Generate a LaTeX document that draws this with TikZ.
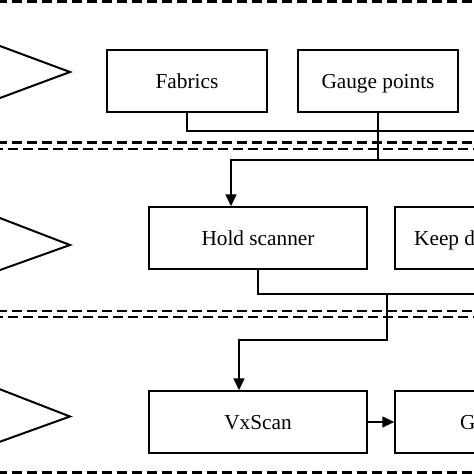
\documentclass[tikz,border=0pt]{standalone}
\usepackage{fontspec}
\setmainfont{Liberation Serif}
\usetikzlibrary{arrows.meta,calc}
\begin{document}
\begin{tikzpicture}[x=1pt,y=-1pt,
  txt/.style={font=\fontsize{21.3}{25}\selectfont, text height=14.5pt, text depth=0pt},
  box/.style={draw, line width=1.4pt, minimum height=62pt, inner sep=0pt, txt},
  lbl/.style={inner sep=0pt, txt, anchor=west},
  conn/.style={line width=1.5pt},
  arr/.style={conn, -{Triangle[length=12pt,width=11pt]}},
  sep/.style={line width=2.6pt, dash pattern=on 10pt off 5pt},
  tri/.style={line width=2pt, line join=miter}]
\useasboundingbox (0,0) rectangle (474,474);
\clip (0,0) rectangle (474,474);

% separators
\draw[sep] (-3,1.2) -- (480,1.2);
\draw[sep] (-3,142.5) -- (480,142.5);
\draw[sep, dash phase=4pt] (-3,149) -- (480,149);
\draw[sep] (-3,311) -- (480,311);
\draw[sep, dash phase=4pt] (-3,317) -- (480,317);
\draw[sep] (-3,472.5) -- (480,472.5);

% triangles
\draw[tri] (-10,42.3) -- (70,72) -- (-10,101.7);
\draw[tri] (-10,214.2) -- (70,245) -- (-10,273.6);
\draw[tri] (-10,385.4) -- (70,416.5) -- (-10,445.3);

% boxes
\node[box, minimum width=160pt] (fab) at (187,81) {Fabrics};
\node[box, minimum width=160pt] (gp) at (378,81) {Gauge points};
\node[box, minimum width=218pt] (hs) at (258,238) {Hold scanner};
\node[box, minimum width=218pt] (kd) at (504,238) {};
\node[lbl] (kdt) at (414,238) {Keep d};
\node[box, minimum width=218pt] (vx) at (258,422) {VxScan};
\node[box, minimum width=218pt] (gm) at (504,422) {};
\node[lbl] (gmt) at (460,422) {G};

% connector points
\coordinate (fabR) at (480,131);
\coordinate (gpJ) at (378,160);
\coordinate (gpR) at (480,160);
\coordinate (hsR) at (480,294);
\coordinate (hsJ) at (387,294);
\coordinate (vxB) at (387,340);

% connectors
\draw[conn] (fab.south) |- (fabR);
\draw[conn] (gp.south) -- (gpJ);
\draw[arr] (gpR) -| ([xshift=-27pt]hs.north);
\draw[conn] (hs.south) |- (hsR);
\draw[arr] (hsJ) -- (vxB) -| ([xshift=-19pt]vx.north);
\draw[arr] (vx.east) -- (gm.west);
\end{tikzpicture}
\end{document}
